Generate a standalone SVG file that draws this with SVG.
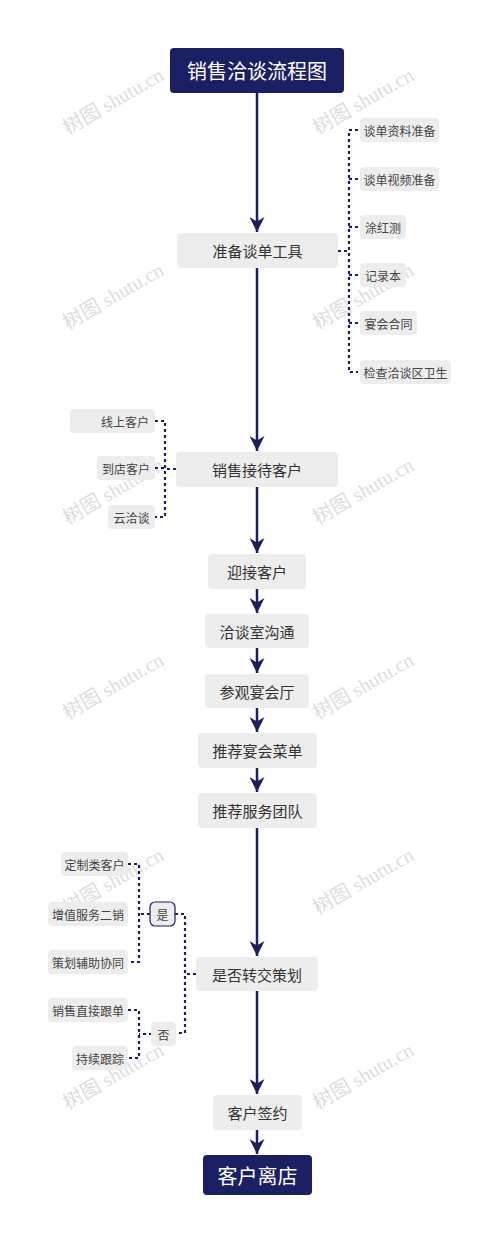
<svg xmlns="http://www.w3.org/2000/svg" width="500" height="1245" viewBox="0 0 500 1245">
<defs>
<style>
text{font-family:"Noto Sans CJK SC","Liberation Sans",sans-serif;}
.dark rect{fill:#1b1f63;}
.dark text{fill:#fff;font-size:20px;text-anchor:middle;dominant-baseline:central;}
.main rect{fill:#ededed;}
.main text{fill:#333;font-size:15px;text-anchor:middle;dominant-baseline:central;}
.sub rect{fill:#ededed;}
.sub text{fill:#444;font-size:12px;text-anchor:middle;dominant-baseline:central;}
.line{stroke:#1b1f5e;stroke-width:2.5;fill:none;}
.dot{stroke:#1b1f5e;stroke-width:2.2;fill:none;stroke-dasharray:3 3;}
.wm{font-family:"Liberation Serif","Noto Sans CJK SC",serif;font-size:20px;fill:#c8c8c8;opacity:0.6;}
</style>
<marker id="arr" viewBox="0 0 10 10" refX="10" refY="5" markerWidth="6" markerHeight="6" orient="auto" markerUnits="strokeWidth">
<path d="M0,0 L10,5 L0,10 L3,5 z" fill="#1b1f5e"/>
</marker>
</defs>
<rect width="500" height="1245" fill="#fff"/>
<g id="watermarks">
<text class="wm" transform="translate(68,135) rotate(-30)">树图 shutu.cn</text>
<text class="wm" transform="translate(318,135) rotate(-30)">树图 shutu.cn</text>
<text class="wm" transform="translate(68,330) rotate(-30)">树图 shutu.cn</text>
<text class="wm" transform="translate(318,330) rotate(-30)">树图 shutu.cn</text>
<text class="wm" transform="translate(68,525) rotate(-30)">树图 shutu.cn</text>
<text class="wm" transform="translate(318,525) rotate(-30)">树图 shutu.cn</text>
<text class="wm" transform="translate(68,720) rotate(-30)">树图 shutu.cn</text>
<text class="wm" transform="translate(318,720) rotate(-30)">树图 shutu.cn</text>
<text class="wm" transform="translate(68,915) rotate(-30)">树图 shutu.cn</text>
<text class="wm" transform="translate(318,915) rotate(-30)">树图 shutu.cn</text>
<text class="wm" transform="translate(68,1110) rotate(-30)">树图 shutu.cn</text>
<text class="wm" transform="translate(318,1110) rotate(-30)">树图 shutu.cn</text>
</g>
<g id="connectors">
<line class="line" x1="257" y1="93" x2="257" y2="232" marker-end="url(#arr)"/>
<line class="line" x1="257" y1="268" x2="257" y2="451" marker-end="url(#arr)"/>
<line class="line" x1="257" y1="487" x2="257" y2="553" marker-end="url(#arr)"/>
<line class="line" x1="257" y1="589" x2="257" y2="613" marker-end="url(#arr)"/>
<line class="line" x1="257" y1="648" x2="257" y2="673" marker-end="url(#arr)"/>
<line class="line" x1="257" y1="708" x2="257" y2="732" marker-end="url(#arr)"/>
<line class="line" x1="257" y1="768" x2="257" y2="792" marker-end="url(#arr)"/>
<line class="line" x1="257" y1="828" x2="257" y2="956" marker-end="url(#arr)"/>
<line class="line" x1="257" y1="991" x2="257" y2="1094" marker-end="url(#arr)"/>
<line class="line" x1="257" y1="1130" x2="257" y2="1154" marker-end="url(#arr)"/>
<path class="dot" d="M338,251 H349 M358,130 H349 V372 H358 M349,179 H358 M349,227 H358 M349,275 H358 M349,323 H358"/>
<path class="dot" d="M176,469 H165 M155,421 H165 V517 H155 M155,468 H165"/>
<path class="dot" d="M196,974 H185 M175,914 H185 V1033 H175"/>
<path class="dot" d="M150,914 H139 M128,864 H139 V962 H128"/>
<path class="dot" d="M152,1034 H139 M128,1010 H139 V1058 H128"/>
</g>
<g id="n-title" class="dark"><rect x="170" y="48" width="174" height="45" rx="4"/><text x="257" y="70.5">销售洽谈流程图</text></g>
<g id="n-prep" class="main"><rect x="177" y="233" width="161" height="35" rx="4"/><text x="257.5" y="250.5">准备谈单工具</text></g>
<g id="n-p1" class="sub"><rect x="360" y="118" width="79" height="24" rx="4"/><text x="399.5" y="130">谈单资料准备</text></g>
<g id="n-p2" class="sub"><rect x="360" y="167" width="79" height="24" rx="4"/><text x="399.5" y="179">谈单视频准备</text></g>
<g id="n-p3" class="sub"><rect x="360" y="215" width="46" height="24" rx="4"/><text x="383" y="227">涂红测</text></g>
<g id="n-p4" class="sub"><rect x="360" y="263" width="46" height="24" rx="4"/><text x="383" y="275">记录本</text></g>
<g id="n-p5" class="sub"><rect x="360" y="311" width="57" height="24" rx="4"/><text x="388.5" y="323">宴会合同</text></g>
<g id="n-p6" class="sub"><rect x="360" y="360" width="91" height="24" rx="4"/><text x="405.5" y="372">检查洽谈区卫生</text></g>
<g id="n-recv" class="main"><rect x="176" y="452" width="162" height="35" rx="4"/><text x="257" y="469.5">销售接待客户</text></g>
<g id="n-r1" class="sub"><rect x="70" y="409" width="85" height="24" rx="4"/><text x="125" y="421">线上客户</text></g>
<g id="n-r2" class="sub"><rect x="97" y="456" width="58" height="24" rx="4"/><text x="126" y="468">到店客户</text></g>
<g id="n-r3" class="sub"><rect x="108" y="505" width="47" height="24" rx="4"/><text x="131.5" y="517">云洽谈</text></g>
<g id="n-greet" class="main"><rect x="208" y="554" width="98" height="35" rx="4"/><text x="257" y="571.5">迎接客户</text></g>
<g id="n-talk" class="main"><rect x="205" y="614" width="104" height="34" rx="4"/><text x="257" y="631">洽谈室沟通</text></g>
<g id="n-visit" class="main"><rect x="205" y="674" width="104" height="34" rx="4"/><text x="257" y="691">参观宴会厅</text></g>
<g id="n-menu" class="main"><rect x="198" y="733" width="119" height="35" rx="4"/><text x="257.5" y="750.5">推荐宴会菜单</text></g>
<g id="n-team" class="main"><rect x="198" y="793" width="119" height="35" rx="4"/><text x="257.5" y="810.5">推荐服务团队</text></g>
<g id="n-plan" class="main"><rect x="196" y="957" width="122" height="34" rx="4"/><text x="257" y="974">是否转交策划</text></g>
<g id="n-yes"><rect x="150" y="902" width="25" height="24" rx="5" fill="#ededed" stroke="#1b1f5e" stroke-width="1.2"/><text x="162.5" y="914" font-size="12" fill="#444" text-anchor="middle" dominant-baseline="central">是</text></g>
<g id="n-no" class="sub"><rect x="151" y="1022" width="25" height="24" rx="4"/><text x="163.5" y="1034">否</text></g>
<g id="n-y1" class="sub"><rect x="61" y="852" width="67" height="24" rx="4"/><text x="94.5" y="864">定制类客户</text></g>
<g id="n-y2" class="sub"><rect x="48" y="902" width="80" height="24" rx="4"/><text x="88" y="914">增值服务二销</text></g>
<g id="n-y3" class="sub"><rect x="48" y="950" width="80" height="24" rx="4"/><text x="88" y="962">策划辅助协同</text></g>
<g id="n-n1" class="sub"><rect x="48" y="998" width="80" height="24" rx="4"/><text x="88" y="1010">销售直接跟单</text></g>
<g id="n-n2" class="sub"><rect x="72" y="1046" width="56" height="24" rx="4"/><text x="100" y="1058">持续跟踪</text></g>
<g id="n-sign" class="main"><rect x="213" y="1095" width="89" height="35" rx="4"/><text x="257.5" y="1112.5">客户签约</text></g>
<g id="n-leave" class="dark"><rect x="203" y="1155" width="109" height="40" rx="4"/><text x="257.5" y="1175">客户离店</text></g>
</svg>
